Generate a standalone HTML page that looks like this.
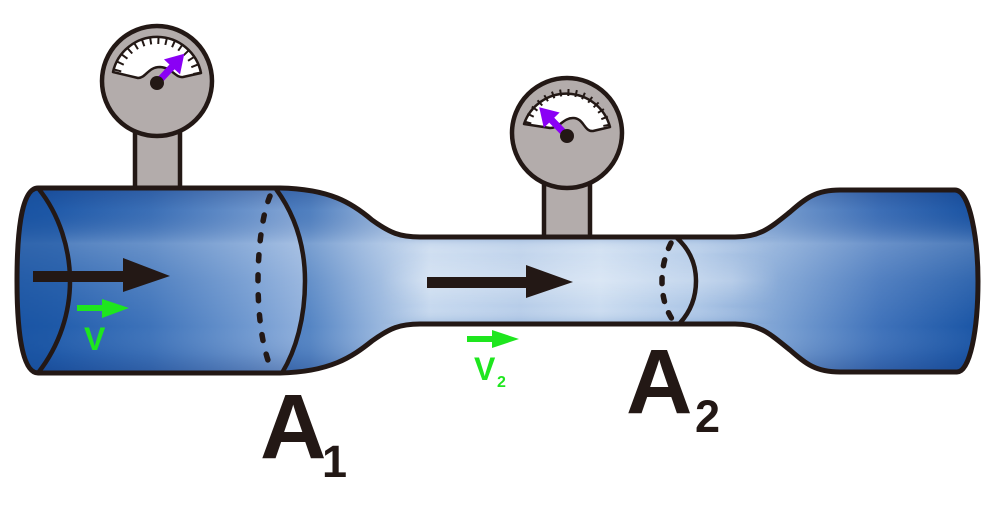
<!DOCTYPE html>
<html><head><meta charset="utf-8"><style>
html,body{margin:0;padding:0;background:#fff;}
svg{display:block;}
</style></head><body>
<svg width="1000" height="505" viewBox="0 0 1000 505" xmlns="http://www.w3.org/2000/svg">
<defs>
<linearGradient id="ha" gradientUnits="userSpaceOnUse" x1="0" y1="0" x2="1000" y2="0">
<stop offset="0.017" stop-color="#1b56a6"/>
<stop offset="0.06" stop-color="#245fae"/>
<stop offset="0.15" stop-color="#3e73ba"/>
<stop offset="0.25" stop-color="#7099d0"/>
<stop offset="0.31" stop-color="#93b2dd"/>
</linearGradient>
<linearGradient id="hb" gradientUnits="userSpaceOnUse" x1="0" y1="0" x2="1000" y2="0">
<stop offset="0.28" stop-color="#4a7cc0"/>
<stop offset="0.31" stop-color="#5585c4"/>
<stop offset="0.36" stop-color="#86a9d7"/>
<stop offset="0.43" stop-color="#c4d7ee"/>
<stop offset="0.47" stop-color="#bdd2ec"/>
<stop offset="0.52" stop-color="#b4cbe8"/>
<stop offset="0.60" stop-color="#c9dbf0"/>
<stop offset="0.66" stop-color="#b4cce9"/>
<stop offset="0.70" stop-color="#a8c3e5"/>
<stop offset="0.78" stop-color="#7ba1d3"/>
<stop offset="0.88" stop-color="#3f72ba"/>
<stop offset="0.975" stop-color="#1b56a6"/>
</linearGradient>
<linearGradient id="vg" gradientUnits="userSpaceOnUse" x1="0" y1="188" x2="0" y2="373">
<stop offset="0" stop-color="#0a2a70" stop-opacity="0.30"/>
<stop offset="0.12" stop-color="#0a2a70" stop-opacity="0.05"/>
<stop offset="0.30" stop-color="#ffffff" stop-opacity="0.22"/>
<stop offset="0.50" stop-color="#ffffff" stop-opacity="0.10"/>
<stop offset="0.75" stop-color="#ffffff" stop-opacity="0.0"/>
<stop offset="0.90" stop-color="#0a2a70" stop-opacity="0.08"/>
<stop offset="1" stop-color="#0a2a70" stop-opacity="0.30"/>
</linearGradient>
<linearGradient id="ng" gradientUnits="userSpaceOnUse" x1="0" y1="237" x2="0" y2="324">
<stop offset="0" stop-color="#6b93c9" stop-opacity="0.35"/>
<stop offset="0.2" stop-color="#ffffff" stop-opacity="0.0"/>
<stop offset="0.5" stop-color="#ffffff" stop-opacity="0.25"/>
<stop offset="0.8" stop-color="#ffffff" stop-opacity="0.0"/>
<stop offset="1" stop-color="#6b93c9" stop-opacity="0.35"/>
</linearGradient>
<linearGradient id="nfade" gradientUnits="userSpaceOnUse" x1="380" y1="0" x2="780" y2="0">
<stop offset="0" stop-color="#fff" stop-opacity="0"/>
<stop offset="0.12" stop-color="#fff" stop-opacity="1"/>
<stop offset="0.88" stop-color="#fff" stop-opacity="1"/>
<stop offset="1" stop-color="#fff" stop-opacity="0"/>
</linearGradient>
<mask id="nm"><rect x="0" y="0" width="1000" height="505" fill="url(#nfade)"/></mask>
<clipPath id="pc">
<path d="M38,188 L280,188 C330,189 352,203 372,220 C390,233 400,237 420,237 L735,237 C760,237 770,228 790,212 C806,198 816,190 840,190 L955,190 C970,190 978,240 978,281 C978,330 970,372 957,372 L840,372 C816,372 806,364 790,350 C770,334 760,324 735,324 L420,324 C400,324 390,328 372,341 C352,357 330,372 280,373 L38,373 C20,373 17,320 17,281 C17,240 20,188 38,188 Z"/>
</clipPath>
</defs>

<!-- gauge stems -->
<rect x="135" y="132" width="45" height="58" fill="#b3acab" stroke="#231815" stroke-width="4.5"/>
<rect x="544" y="183" width="46" height="56" fill="#b3acab" stroke="#231815" stroke-width="4.5"/>

<!-- pipe body -->
<g clip-path="url(#pc)">
<rect x="0" y="180" width="1000" height="200" fill="url(#hb)"/>
<path d="M38,188 L276,189 C295,215 305,245 305,281 C305,318 296,350 282,373 L38,373 C20,373 17,320 17,281 C17,240 20,188 38,188 Z" fill="url(#ha)"/>
<rect x="0" y="180" width="1000" height="200" fill="url(#vg)"/>
<rect x="380" y="237" width="400" height="87" fill="url(#ng)" mask="url(#nm)"/>
<path d="M38,188 C60,215 70,250 70,281 C70,312 60,345 38,373 C20,373 17,320 17,281 C17,240 20,188 38,188 Z" fill="#1a54a3" opacity="0.55"/>
</g>
<path d="M38,188 L280,188 C330,189 352,203 372,220 C390,233 400,237 420,237 L735,237 C760,237 770,228 790,212 C806,198 816,190 840,190 L955,190 C970,190 978,240 978,281 C978,330 970,372 957,372 L840,372 C816,372 806,364 790,350 C770,334 760,324 735,324 L420,324 C400,324 390,328 372,341 C352,357 330,372 280,373 L38,373 C20,373 17,320 17,281 C17,240 20,188 38,188 Z" fill="none" stroke="#231815" stroke-width="5" stroke-linejoin="round"/>

<!-- left end inner curve -->
<path d="M38,188 C60,215 70,250 70,281 C70,312 60,345 38,373" fill="none" stroke="#231815" stroke-width="4.5"/>
<!-- joint 1 -->
<path d="M276,189 C295,215 305,245 305,281 C305,318 296,350 282,373" fill="none" stroke="#231815" stroke-width="4.5"/>
<path d="M270,196 C262,215 258,250 258,281 C258,315 262,345 270,366" fill="none" stroke="#231815" stroke-width="5.5" stroke-linecap="round" stroke-dasharray="6,14"/>
<!-- joint 2 -->
<path d="M677,238 C690,250 696,265 696,281 C696,298 690,312 680,323" fill="none" stroke="#231815" stroke-width="4.5"/>
<path d="M671,243 C665,255 662,268 662,281 C662,295 665,308 672,319" fill="none" stroke="#231815" stroke-width="5.5" stroke-linecap="round" stroke-dasharray="6,12"/>

<!-- black arrows -->
<rect x="33" y="271" width="95" height="11" fill="#231815"/>
<polygon points="123,258 170,276 123,292" fill="#231815"/>
<rect x="427" y="277" width="104" height="11" fill="#231815"/>
<polygon points="526,265 573,282 526,298" fill="#231815"/>

<!-- green arrows -->
<rect x="77" y="305" width="28" height="6" fill="#1ee61e"/>
<polygon points="102,299 129,308 102,318" fill="#1ee61e"/>
<rect x="467" y="336" width="28" height="6" fill="#1ee61e"/>
<polygon points="492,330 519,339 492,348" fill="#1ee61e"/>

<!-- gauge 1 -->
<circle cx="157" cy="81" r="55" fill="#b3acab" stroke="#231815" stroke-width="4.5"/>
<path d="M113,72 A45,45 0 0,1 201,73 L183,77 C175,78 173,68 160,67 C148,67 146,78 138,78 Z" fill="#fff" stroke="#231815" stroke-width="2.5" stroke-linejoin="round"/>
<g stroke="#231815" stroke-width="2" transform="translate(157,81)">
<line x1="37" y1="0" x2="44" y2="0" transform="rotate(-165)"/>
<line x1="37" y1="0" x2="44" y2="0" transform="rotate(-154)"/>
<line x1="37" y1="0" x2="44" y2="0" transform="rotate(-143)"/>
<line x1="37" y1="0" x2="44" y2="0" transform="rotate(-132)"/>
<line x1="37" y1="0" x2="44" y2="0" transform="rotate(-121)"/>
<line x1="37" y1="0" x2="44" y2="0" transform="rotate(-110)"/>
<line x1="37" y1="0" x2="44" y2="0" transform="rotate(-99)"/>
<line x1="37" y1="0" x2="44" y2="0" transform="rotate(-88)"/>
<line x1="37" y1="0" x2="44" y2="0" transform="rotate(-77)"/>
<line x1="37" y1="0" x2="44" y2="0" transform="rotate(-66)"/>
<line x1="37" y1="0" x2="44" y2="0" transform="rotate(-55)"/>
<line x1="37" y1="0" x2="44" y2="0" transform="rotate(-44)"/>
<line x1="37" y1="0" x2="44" y2="0" transform="rotate(-33)"/>
<line x1="37" y1="0" x2="44" y2="0" transform="rotate(-22)"/>
<line x1="37" y1="0" x2="44" y2="0" transform="rotate(-11)"/>
</g>
<g transform="translate(157,83) rotate(-47)">
<rect x="0" y="-3.5" width="26" height="7" fill="#8a00f5"/>
<polygon points="22,-11 40,0 22,11" fill="#8a00f5"/>
</g>
<circle cx="157" cy="83" r="7" fill="#231815"/>

<!-- gauge 2 -->
<circle cx="567" cy="133" r="55" fill="#b3acab" stroke="#231815" stroke-width="4.5"/>
<path d="M524,124 A45,45 0 0,1 610,127 L593,131 C584,132 584,118 573,118 C563,118 560,128 550,128 Z" fill="#fff" stroke="#231815" stroke-width="2.5" stroke-linejoin="round"/>
<g stroke="#231815" stroke-width="2" transform="translate(567,133)">
<line x1="37" y1="0" x2="44" y2="0" transform="rotate(-165)"/>
<line x1="37" y1="0" x2="44" y2="0" transform="rotate(-154)"/>
<line x1="37" y1="0" x2="44" y2="0" transform="rotate(-143)"/>
<line x1="37" y1="0" x2="44" y2="0" transform="rotate(-132)"/>
<line x1="37" y1="0" x2="44" y2="0" transform="rotate(-121)"/>
<line x1="37" y1="0" x2="44" y2="0" transform="rotate(-110)"/>
<line x1="37" y1="0" x2="44" y2="0" transform="rotate(-99)"/>
<line x1="37" y1="0" x2="44" y2="0" transform="rotate(-88)"/>
<line x1="37" y1="0" x2="44" y2="0" transform="rotate(-77)"/>
<line x1="37" y1="0" x2="44" y2="0" transform="rotate(-66)"/>
<line x1="37" y1="0" x2="44" y2="0" transform="rotate(-55)"/>
<line x1="37" y1="0" x2="44" y2="0" transform="rotate(-44)"/>
<line x1="37" y1="0" x2="44" y2="0" transform="rotate(-33)"/>
<line x1="37" y1="0" x2="44" y2="0" transform="rotate(-22)"/>
<line x1="37" y1="0" x2="44" y2="0" transform="rotate(-11)"/>
</g>
<g transform="translate(567,136) rotate(-134)">
<rect x="0" y="-3.5" width="26" height="7" fill="#8a00f5"/>
<polygon points="22,-11 40,0 22,11" fill="#8a00f5"/>
</g>
<circle cx="567" cy="136" r="7" fill="#231815"/>

<!-- labels -->
<g font-family="Liberation Sans, Arial, sans-serif" font-weight="bold">
<text x="84" y="350" font-size="32" fill="#1ee61e">V</text>
<text x="474" y="380" font-size="32" fill="#1ee61e">V</text>
<text x="497" y="387" font-size="16" fill="#1ee61e">2</text>
<text x="260" y="458" font-size="92" fill="#231815">A</text>
<text x="322" y="477" font-size="45" fill="#231815">1</text>
<text x="626" y="413" font-size="92" fill="#231815">A</text>
<text x="695" y="432" font-size="45" fill="#231815">2</text>
</g>
</svg>
</body></html>
